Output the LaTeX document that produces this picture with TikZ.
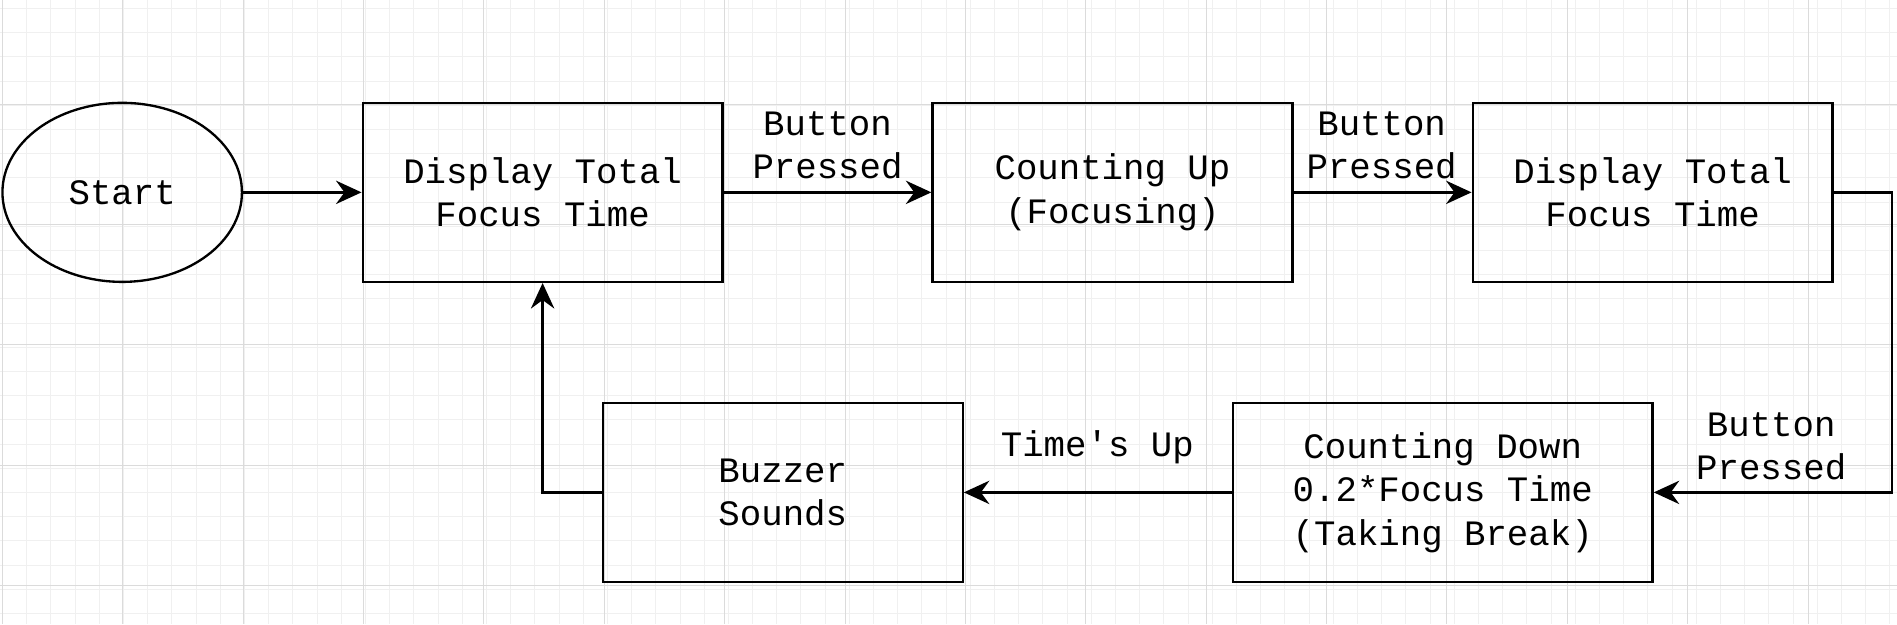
\documentclass[tikz,border=0pt]{standalone}
\usepackage{fontspec}
\setmonofont{Liberation Mono}
\usetikzlibrary{arrows.meta,shapes.geometric}
\begin{document}
\begin{tikzpicture}[x=0.02cm,y=-0.02cm,
  box/.style={draw,line width=1.1pt,minimum width=5.95cm,minimum height=2.96cm,align=center,inner sep=0pt},
  txt/.style={font=\fontsize{16.8}{20.5}\selectfont\ttfamily},
  arr/.style={line width=1.1pt,-{Stealth[length=12pt,width=11pt,inset=4pt]}},
  lab/.style={txt,align=center,inner sep=0pt}]
\useasboundingbox (0,0) rectangle (1568,516);
\fill[white] (0,0) rectangle (1568,516);
\foreach \x in {2,22,...,1568} \draw[black!6,line width=0.4pt] (\x,0)--(\x,516);
\foreach \y in {7,27,...,516} \draw[black!6,line width=0.4pt] (0,\y)--(1568,\y);
\foreach \x in {2,101.5,...,1568} \draw[black!14,line width=0.5pt] (\x,0)--(\x,516);
\foreach \y in {86,185.5,...,516} \draw[black!14,line width=0.5pt] (0,\y)--(1568,\y);
\node[ellipse,draw,line width=1.1pt,minimum width=3.96cm,minimum height=2.96cm,inner sep=0pt,txt] (s) at (101,159) {Start};
\node[box,txt] (b1) at (448.5,159) {Display Total\\Focus Time};
\node[box,txt] (b2) at (919.5,159) {Counting Up\\(Focusing)};
\node[box,txt] (b3) at (1366,159) {Display Total\\Focus Time};
\node[box,txt,minimum width=6.94cm] (b4) at (1192.5,407) {Counting Down\\0.2*Focus Time\\(Taking Break)};
\node[box,txt] (b5) at (647,407) {Buzzer\\Sounds};
\coordinate (c1) at (1564,159);
\coordinate (c2) at (1564,407);
\coordinate (c3) at (448.5,407);
\draw[arr] (s) -- (b1);
\draw[arr] (b1) -- (b2);
\draw[arr] (b2) -- (b3);
\draw[arr] (b3.east) -- (c1) -- (c2) -- (b4.east);
\draw[arr] (b4) -- (b5);
\draw[arr] (b5.west) -- (c3) -- (b1.south);
\node[lab] (l1) at (684,120) {Button\\Pressed};
\node[lab] (l2) at (1142,120) {Button\\Pressed};
\node[lab] (l3) at (1464,369) {Button\\Pressed};
\node[lab] (l4) at (907,370) {Time's Up};
\end{tikzpicture}
\end{document}
